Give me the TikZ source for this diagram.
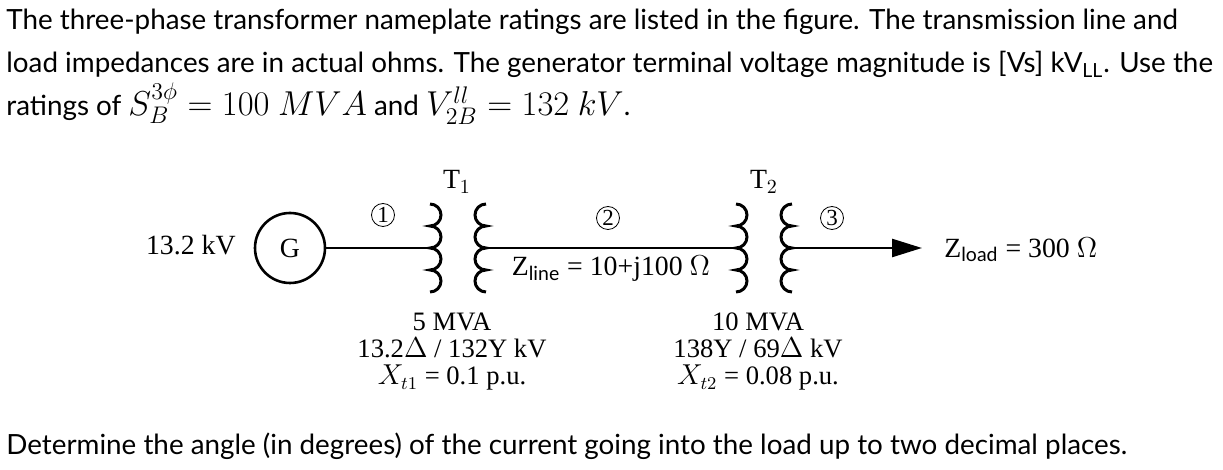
\documentclass[tikz,border=0pt]{standalone}
\usepackage{fontspec}
\setmainfont{Lato}
\newfontfamily\tms{Liberation Serif}
\usetikzlibrary{arrows.meta}
\begin{document}
\begin{tikzpicture}[x=0.5pt,y=-0.5pt,
  txt/.style={anchor=base west,inner sep=0,font=\fontsize{13.9}{16}\selectfont},
  dg/.style={inner sep=0,font=\tms\fontsize{13.9}{15}\selectfont},
  rt/.style={inner sep=0,anchor=base,font=\tms\fontsize{13.3}{14}\selectfont},
  bus/.style={circle,draw,line width=0.4pt,minimum size=11.5pt,inner sep=0,font=\tms\fontsize{11.5}{12}\selectfont},
  wire/.style={line width=1.3pt},
  coil/.style={line width=1.5pt}]
\useasboundingbox (0,0) rectangle (1223,470);
\node[txt] (l1) at (6,30) {The three-phase transformer nameplate ratings are listed in the figure. The transmission line and};
\node[txt] (l2) at (6,73) {load impedances are in actual ohms. The generator terminal voltage magnitude is [Vs] kV$_{\mathrm{LL}}$. Use the};
\node[txt] (l3) at (6,116) {ratings of {\fontsize{16.5}{18}\selectfont$S_B^{3\phi}=100\ MVA$} and {\fontsize{16.5}{18}\selectfont$V_{2B}^{ll}=132\ kV$}.};
\node[txt] (l4) at (6,455) {Determine the angle (in degrees) of the current going into the load up to two decimal places.};
% generator
\node[circle,draw,line width=1.3pt,minimum size=35pt,inner sep=0,dg] (G) at (290,248) {G};
\node[dg,anchor=east] (vs) at (236,245) {13.2 kV};
% coils
\coordinate (p1) at (430,204);
\coordinate (s1) at (486,204);
\coordinate (p2) at (736,204);
\coordinate (s2) at (792,204);
\foreach \c in {p1,p2}{\draw[coil] (\c) arc (90:-90:5.5pt) arc (90:-90:5.5pt) arc (90:-90:5.5pt) arc (90:-90:5.5pt);}
\foreach \c in {s1,s2}{\draw[coil] (\c) arc (90:270:5.5pt) arc (90:270:5.5pt) arc (90:270:5.5pt) arc (90:270:5.5pt);}
\coordinate (pj1) at (430,248);
\coordinate (sj1) at (486,248);
\coordinate (pj2) at (736,248);
\coordinate (sj2) at (792,248);
\coordinate (ld) at (922,248);
\draw[wire] (G.east) -- (pj1);
\draw[wire] (sj1) -- (pj2);
\draw[wire,-{Triangle[length=15pt,width=9pt]}] (sj2) -- (ld);
\node[dg,anchor=west] (zl) at (944,250) {Z$_{\mathrm{load}}$ = 300 $\Omega$};
\node[dg] (T1) at (457,182) {T$_1$};
\node[dg] (T2) at (764,182) {T$_2$};
\node[bus] (b1) at (383,215) {1};
\node[bus] (b2) at (608,218) {2};
\node[bus] (b3) at (832,218) {3};
\node[dg] (zln) at (611,269) {Z$_{\mathrm{line}}$ = 10+j100 $\Omega$};
\node[rt] (r1a) at (452,331) {5 MVA};
\node[rt] (r1b) at (452,358) {13.2$\Delta$ / 132Y kV};
\node[rt] (r1c) at (452,385) {$X_{t1}$ = 0.1 p.u.};
\node[rt] (r2a) at (758,331) {10 MVA};
\node[rt] (r2b) at (758,358) {138Y / 69$\Delta$ kV};
\node[rt] (r2c) at (758,385) {$X_{t2}$ = 0.08 p.u.};
\end{tikzpicture}
\end{document}
